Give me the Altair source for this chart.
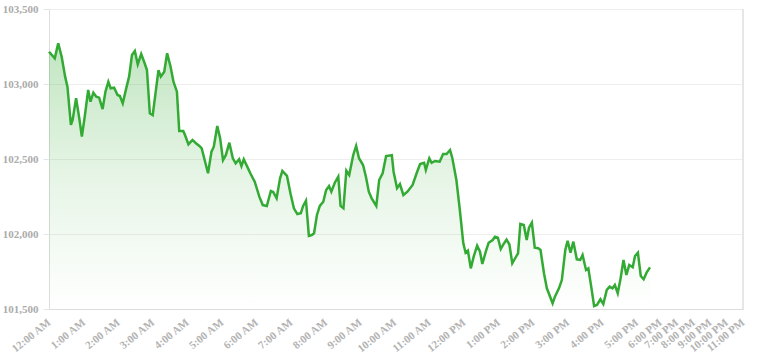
import json
import altair as alt
import pandas as pd

# minutes since midnight
minutes = [0, 10, 16, 22, 28, 32, 38, 41, 47, 53, 57, 62, 68, 72, 77, 82, 87, 93, 98, 103,
           107, 113, 119, 123, 128, 134, 139, 144, 149, 154, 160, 165, 170, 175, 180, 190,
           194, 200, 205, 211, 216, 222, 226, 233, 236, 242, 249, 255, 261, 265, 276, 282,
           286, 292, 297, 302, 307, 313, 319, 324, 330, 334, 338, 344, 350, 357, 365, 371,
           378, 385, 389, 395, 401, 405, 413, 419, 425, 431, 437, 441, 446, 451, 456, 460,
           465, 470, 476, 481, 486, 490, 496, 502, 506, 511, 516, 521, 528, 533, 538, 545,
           550, 555, 560, 568, 573, 579, 585, 595, 598, 604, 609, 615, 622, 631, 638, 644,
           651, 654, 660, 664, 670, 678, 684, 690, 696, 700, 707, 713, 719, 723, 727, 732,
           737, 743, 748, 752, 758, 763, 770, 774, 779, 784, 788, 794, 799, 804, 810, 814,
           818, 824, 829, 833, 838, 843, 849, 853, 859, 864, 874, 878, 885, 890, 896, 900,
           905, 910, 916, 922, 926, 932, 936, 941, 946, 951, 957, 962, 968, 973, 978, 982,
           987, 992, 997, 1002, 1007, 1013, 1017, 1022, 1027, 1032, 1037, 1043]

prices = [103215, 103171, 103271, 103182, 103049, 102982, 102727, 102760, 102905, 102760,
          102649, 102782, 102960, 102882, 102942, 102915, 102909, 102833, 102949, 103015,
          102971, 102975, 102927, 102920, 102871, 102971, 103049, 103193, 103220, 103131,
          103200, 103149, 103093, 102805, 102793, 103093, 103049, 103082, 103205, 103115,
          103015, 102949, 102687, 102687, 102660, 102598, 102627, 102605, 102587, 102571,
          102405, 102549, 102582, 102720, 102638, 102493, 102527, 102609, 102505, 102471,
          102498, 102453, 102498, 102449, 102400, 102349, 102249, 102193, 102187, 102287,
          102280, 102238, 102371, 102420, 102387, 102271, 102171, 102133, 102138, 102187,
          102222, 101987, 101993, 102005, 102127, 102187, 102215, 102293, 102320, 102282,
          102342, 102382, 102187, 102171, 102422, 102393, 102527, 102587, 102505, 102460,
          102382, 102282, 102238, 102187, 102360, 102405, 102520, 102525, 102415, 102305,
          102333, 102260, 102282, 102327, 102405, 102467, 102475, 102427, 102505, 102475,
          102487, 102482, 102533, 102533, 102560, 102505, 102360, 102160, 101938, 101875,
          101889, 101771, 101849, 101922, 101882, 101800, 101882, 101942, 101960, 101982,
          101975, 101900, 101927, 101963, 101930, 101805, 101845, 101871, 102067, 102060,
          101960, 102042, 102075, 101909, 101905, 101893, 101738, 101638, 101538, 101582,
          101638, 101693, 101893, 101955, 101875, 101949, 101831, 101827, 101860, 101760,
          101771, 101649, 101520, 101527, 101565, 101533, 101627, 101649, 101638, 101660,
          101605, 101705, 101827, 101727, 101793, 101778, 101853, 101875, 101720, 101698,
          101742, 101778]

hour_labels = ["12:00 AM", "1:00 AM", "2:00 AM", "3:00 AM", "4:00 AM", "5:00 AM",
               "6:00 AM", "7:00 AM", "8:00 AM", "9:00 AM", "10:00 AM", "11:00 AM",
               "12:00 PM", "1:00 PM", "2:00 PM", "3:00 PM", "4:00 PM", "5:00 PM",
               "6:00 PM", "7:00 PM", "8:00 PM", "9:00 PM", "10:00 PM", "11:00 PM"]
y_ticks = [101500, 102000, 102500, 103000, 103500]

df = pd.DataFrame({"hour": [m / 60 for m in minutes], "price": prices})

W, H = 694, 300
LINE = "#33aa33"
last_hour = minutes[-1] / 60

xscale = alt.Scale(domain=[0, last_hour, 23], range=[0, 601, W], nice=False)
yscale = alt.Scale(domain=[101500, 103500], nice=False, zero=False)

label_expr = json.dumps(hour_labels) + "[round(datum.value)]"

x_enc = alt.X("hour:Q", scale=xscale,
              axis=alt.Axis(values=list(range(24)), labelExpr=label_expr, title=None,
                            labelAngle=-39, labelAlign="right", labelBaseline="middle",
                            labelFont="Liberation Serif", labelFontSize=11,
                            labelFontWeight="bold", labelColor="#b3b3b3",
                            labelPadding=12, ticks=False, grid=False,
                            domainColor="#dddddd", domainWidth=1, labelOverlap=False,
                            labelBound=False, labelFlush=False))
y_enc = alt.Y("price:Q", scale=yscale,
              axis=alt.Axis(values=y_ticks, format=",.0f", title=None,
                            labelFont="Liberation Serif", labelFontSize=11,
                            labelFontWeight="bold", labelColor="#ababab",
                            labelPadding=5, tickSize=6, tickColor="#e6e6e6",
                            gridColor="#eeeeee", domain=False, labelOverlap=False))

area = alt.Chart(df).mark_area(
    color=alt.Gradient(
        gradient="linear", x1=1, x2=1, y1=0, y2=1,
        stops=[alt.GradientStop(color="rgba(51,170,51,0.30)", offset=0),
               alt.GradientStop(color="rgba(51,170,51,0.12)", offset=0.5),
               alt.GradientStop(color="rgba(51,170,51,0.0)", offset=1)]),
    interpolate="linear",
).encode(x=x_enc, y=y_enc, y2=alt.datum(101500))

line = alt.Chart(df).mark_line(color=LINE, strokeWidth=2.5).encode(x=x_enc, y=y_enc)

edge = alt.Chart(df).mark_rule(color="#e6e6e6", strokeWidth=2).encode(
    x=alt.value(W), y=alt.value(0), y2=alt.value(H))

chart = alt.layer(area, line, edge).properties(
    width=W, height=H,
    autosize=alt.AutoSizeParams(type="none"),
    padding={"left": 49, "top": 9, "right": 25, "bottom": 54},
).configure_view(stroke=None).configure(background="white")

chart.save("out.html", embed_options={"renderer": "svg", "actions": False})
